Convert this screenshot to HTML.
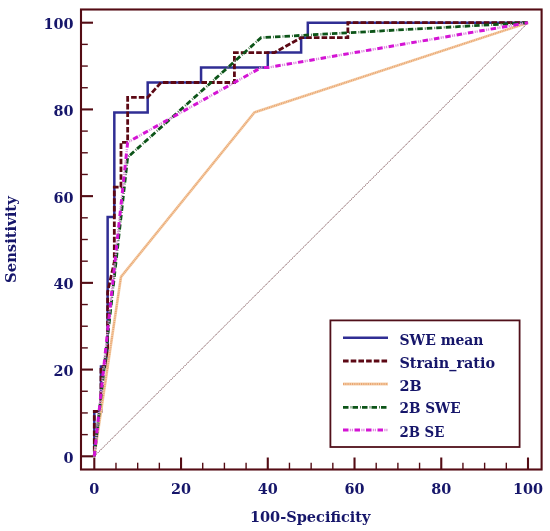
<!DOCTYPE html>
<html><head><meta charset="utf-8"><style>
html,body{margin:0;padding:0;background:#fff;}
body{width:550px;height:531px;overflow:hidden;}
svg{display:block;}
.t{font-family:"DejaVu Serif", "Liberation Serif", serif;font-weight:bold;font-size:14.4px;fill:#16166a;}
</style></head><body>
<svg width="550" height="531" viewBox="0 0 550 531">
<rect x="81" y="9.5" width="460.6" height="460" fill="none" stroke="#540c14" stroke-width="2.1"/>
<line x1="81" y1="456.30" x2="93" y2="456.30" stroke="#540c14" stroke-width="2.1"/>
<line x1="94.30" y1="469.5" x2="94.30" y2="457.5" stroke="#540c14" stroke-width="2.1"/>
<line x1="81" y1="434.62" x2="87.8" y2="434.62" stroke="#540c14" stroke-width="1.4"/>
<line x1="115.98" y1="469.5" x2="115.98" y2="462.7" stroke="#540c14" stroke-width="1.4"/>
<line x1="81" y1="412.94" x2="87.8" y2="412.94" stroke="#540c14" stroke-width="1.4"/>
<line x1="137.67" y1="469.5" x2="137.67" y2="462.7" stroke="#540c14" stroke-width="1.4"/>
<line x1="81" y1="391.26" x2="87.8" y2="391.26" stroke="#540c14" stroke-width="1.4"/>
<line x1="159.35" y1="469.5" x2="159.35" y2="462.7" stroke="#540c14" stroke-width="1.4"/>
<line x1="81" y1="369.58" x2="93" y2="369.58" stroke="#540c14" stroke-width="2.1"/>
<line x1="181.04" y1="469.5" x2="181.04" y2="457.5" stroke="#540c14" stroke-width="2.1"/>
<line x1="81" y1="347.90" x2="87.8" y2="347.90" stroke="#540c14" stroke-width="1.4"/>
<line x1="202.72" y1="469.5" x2="202.72" y2="462.7" stroke="#540c14" stroke-width="1.4"/>
<line x1="81" y1="326.22" x2="87.8" y2="326.22" stroke="#540c14" stroke-width="1.4"/>
<line x1="224.41" y1="469.5" x2="224.41" y2="462.7" stroke="#540c14" stroke-width="1.4"/>
<line x1="81" y1="304.54" x2="87.8" y2="304.54" stroke="#540c14" stroke-width="1.4"/>
<line x1="246.09" y1="469.5" x2="246.09" y2="462.7" stroke="#540c14" stroke-width="1.4"/>
<line x1="81" y1="282.86" x2="93" y2="282.86" stroke="#540c14" stroke-width="2.1"/>
<line x1="267.78" y1="469.5" x2="267.78" y2="457.5" stroke="#540c14" stroke-width="2.1"/>
<line x1="81" y1="261.18" x2="87.8" y2="261.18" stroke="#540c14" stroke-width="1.4"/>
<line x1="289.46" y1="469.5" x2="289.46" y2="462.7" stroke="#540c14" stroke-width="1.4"/>
<line x1="81" y1="239.50" x2="87.8" y2="239.50" stroke="#540c14" stroke-width="1.4"/>
<line x1="311.15" y1="469.5" x2="311.15" y2="462.7" stroke="#540c14" stroke-width="1.4"/>
<line x1="81" y1="217.82" x2="87.8" y2="217.82" stroke="#540c14" stroke-width="1.4"/>
<line x1="332.83" y1="469.5" x2="332.83" y2="462.7" stroke="#540c14" stroke-width="1.4"/>
<line x1="81" y1="196.14" x2="93" y2="196.14" stroke="#540c14" stroke-width="2.1"/>
<line x1="354.52" y1="469.5" x2="354.52" y2="457.5" stroke="#540c14" stroke-width="2.1"/>
<line x1="81" y1="174.46" x2="87.8" y2="174.46" stroke="#540c14" stroke-width="1.4"/>
<line x1="376.20" y1="469.5" x2="376.20" y2="462.7" stroke="#540c14" stroke-width="1.4"/>
<line x1="81" y1="152.78" x2="87.8" y2="152.78" stroke="#540c14" stroke-width="1.4"/>
<line x1="397.89" y1="469.5" x2="397.89" y2="462.7" stroke="#540c14" stroke-width="1.4"/>
<line x1="81" y1="131.10" x2="87.8" y2="131.10" stroke="#540c14" stroke-width="1.4"/>
<line x1="419.57" y1="469.5" x2="419.57" y2="462.7" stroke="#540c14" stroke-width="1.4"/>
<line x1="81" y1="109.42" x2="93" y2="109.42" stroke="#540c14" stroke-width="2.1"/>
<line x1="441.26" y1="469.5" x2="441.26" y2="457.5" stroke="#540c14" stroke-width="2.1"/>
<line x1="81" y1="87.74" x2="87.8" y2="87.74" stroke="#540c14" stroke-width="1.4"/>
<line x1="462.94" y1="469.5" x2="462.94" y2="462.7" stroke="#540c14" stroke-width="1.4"/>
<line x1="81" y1="66.06" x2="87.8" y2="66.06" stroke="#540c14" stroke-width="1.4"/>
<line x1="484.63" y1="469.5" x2="484.63" y2="462.7" stroke="#540c14" stroke-width="1.4"/>
<line x1="81" y1="44.38" x2="87.8" y2="44.38" stroke="#540c14" stroke-width="1.4"/>
<line x1="506.31" y1="469.5" x2="506.31" y2="462.7" stroke="#540c14" stroke-width="1.4"/>
<line x1="81" y1="22.70" x2="93" y2="22.70" stroke="#540c14" stroke-width="2.1"/>
<line x1="528.00" y1="469.5" x2="528.00" y2="457.5" stroke="#540c14" stroke-width="2.1"/>
<text x="73.6" y="462.90" text-anchor="end" class="t">0</text>
<text x="94.30" y="493.8" text-anchor="middle" class="t">0</text>
<text x="73.6" y="376.18" text-anchor="end" class="t">20</text>
<text x="181.04" y="493.8" text-anchor="middle" class="t">20</text>
<text x="73.6" y="289.46" text-anchor="end" class="t">40</text>
<text x="267.78" y="493.8" text-anchor="middle" class="t">40</text>
<text x="73.6" y="202.74" text-anchor="end" class="t">60</text>
<text x="354.52" y="493.8" text-anchor="middle" class="t">60</text>
<text x="73.6" y="116.02" text-anchor="end" class="t">80</text>
<text x="441.26" y="493.8" text-anchor="middle" class="t">80</text>
<text x="73.6" y="29.30" text-anchor="end" class="t">100</text>
<text x="528.00" y="493.8" text-anchor="middle" class="t">100</text>
<text x="310.2" y="522" text-anchor="middle" textLength="120.6" lengthAdjust="spacingAndGlyphs" class="t">100-Specificity</text>
<text transform="translate(16.3,239.6) rotate(-90)" x="0" y="0" text-anchor="middle" class="t" textLength="86.6" lengthAdjust="spacingAndGlyphs">Sensitivity</text>
<line x1="94.3" y1="456.3" x2="528.0" y2="22.69999999999999" stroke="#8a6468" stroke-width="1" stroke-dasharray="1.6 0.6"/>
<polyline points="94.30,456.30 94.30,411.44 100.97,411.44 100.97,366.59 107.64,366.59 107.64,217.07 114.32,217.07 114.32,112.41 147.68,112.41 147.68,82.51 201.06,82.51 201.06,67.56 267.78,67.56 267.78,52.60 301.14,52.60 301.14,37.65 307.81,37.65 307.81,22.70 528.00,22.70" fill="none" stroke="#302e94" stroke-width="2.5"/>
<polyline points="94.30,456.30 94.30,411.44 100.97,411.44 100.97,366.59 107.64,366.59 107.64,291.83 114.32,261.93 114.32,187.17 120.99,187.17 120.99,142.31 127.66,142.31 127.66,97.46 147.68,97.46 161.02,82.51 234.42,82.51 234.42,52.60 274.45,52.60 301.14,37.65 347.85,37.65 347.85,22.70 528.00,22.70" fill="none" stroke="#5c0814" stroke-width="2.8" stroke-dasharray="5.6 2.1" stroke-dashoffset="3.0"/>
<polyline points="94.30,456.30 120.99,276.88 254.44,112.41 528.00,22.70" fill="none" stroke="#f5d0ac" stroke-width="2.8"/>
<polyline points="94.30,456.30 120.99,276.88 254.44,112.41 528.00,22.70" fill="none" stroke="#e8a26c" stroke-width="1.7999999999999998" stroke-dasharray="0.9 0.9"/>
<polyline points="94.30,456.30 127.66,157.27 261.11,37.65 528.00,22.70" fill="none" stroke="#0c5418" stroke-width="2.8" stroke-dasharray="5.5 4"/>
<polyline points="94.30,456.30 127.66,157.27 261.11,37.65 528.00,22.70" fill="none" stroke="#4e7e52" stroke-width="2.4" stroke-dasharray="0 7.5 1 1"/>
<polyline points="94.30,456.30 127.66,142.31 261.11,67.56 267.78,67.56 528.00,22.70" fill="none" stroke="#d414d4" stroke-width="3.0" stroke-dasharray="5.5 6"/>
<polyline points="94.30,456.30 127.66,142.31 261.11,67.56 267.78,67.56 528.00,22.70" fill="none" stroke="#dc8cdc" stroke-width="2.4" stroke-dasharray="0 6.8 1.2 0.8 1.2 1.5"/>
<rect x="330.4" y="320.4" width="189.2" height="126.6" fill="#fff" stroke="#50101a" stroke-width="1.8"/>
<line x1="343" y1="337.8" x2="388" y2="337.8" stroke="#302e94" stroke-width="2.5"/>
<line x1="343" y1="361.0" x2="388" y2="361.0" stroke="#5c0814" stroke-width="2.8" stroke-dasharray="5.6 2.1"/>
<line x1="343" y1="384.0" x2="388" y2="384.0" stroke="#f5d0ac" stroke-width="2.8"/>
<line x1="343" y1="384.0" x2="388" y2="384.0" stroke="#e8a26c" stroke-width="1.7999999999999998" stroke-dasharray="0.9 0.9"/>
<line x1="343" y1="407.3" x2="388" y2="407.3" stroke="#0c5418" stroke-width="2.8" stroke-dasharray="5.5 4"/>
<line x1="343" y1="407.3" x2="388" y2="407.3" stroke="#4e7e52" stroke-width="2.4" stroke-dasharray="0 7.5 1 1"/>
<line x1="343" y1="430.0" x2="388" y2="430.0" stroke="#d414d4" stroke-width="3.0" stroke-dasharray="5.5 6"/>
<line x1="343" y1="430.0" x2="388" y2="430.0" stroke="#dc8cdc" stroke-width="2.4" stroke-dasharray="0 6.8 1.2 0.8 1.2 1.5"/>
<text x="399.4" y="345.0" textLength="84.1" lengthAdjust="spacingAndGlyphs" class="t">SWE mean</text>
<text x="399.4" y="367.6" class="t">Strain_ratio</text>
<text x="399.4" y="390.8" class="t">2B</text>
<text x="399.4" y="413.2" textLength="61.3" lengthAdjust="spacingAndGlyphs" class="t">2B SWE</text>
<text x="399.4" y="436.6" textLength="44.9" lengthAdjust="spacingAndGlyphs" class="t">2B SE</text>
</svg>
</body></html>
